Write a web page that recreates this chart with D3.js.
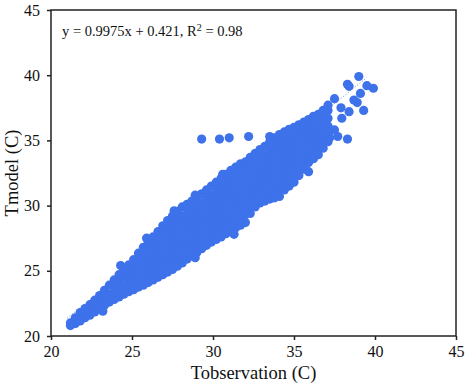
<!DOCTYPE html>
<html>
<head>
<meta charset="utf-8">
<script src="https://cdn.jsdelivr.net/npm/d3@7"></script>
<style>
  body { margin: 0; background: #fff; }
  text { font-family: "Liberation Serif", "Times New Roman", serif; fill: #111; }
</style>
</head>
<body>
<script>
var obsX = [21.2, 21.5, 21.8, 22.1, 22.4, 22.7, 23.0, 23.3, 23.6, 23.9, 24.2, 24.5, 24.8, 25.1,
  25.4, 25.7, 26.0, 26.3, 26.6, 26.9, 27.2, 27.5, 27.8, 28.1, 28.4, 28.7, 29.0, 29.3, 29.6,
  29.9, 30.2, 30.5, 30.8, 31.1, 31.4, 31.7, 32.0, 32.3, 32.6, 32.9, 33.2, 33.5, 33.8, 34.1,
  34.4, 34.7, 35.0, 35.3, 35.6, 35.9, 36.2, 36.5, 36.8, 37.1];
var modelY = [
  [20.8, 21.0],
  [20.95, 21.4],
  [21.15, 21.5, 21.8],
  [21.4, 21.75, 22.1],
  [21.6, 22.0, 22.4],
  [21.85, 22.3, 22.75],
  [22.1, 22.6, 23.1],
  [22.35, 22.9, 23.5],
  [22.6, 23.2, 23.9],
  [22.8, 23.4, 23.9, 24.3],
  [23.0, 23.6, 24.2, 24.7],
  [23.2, 23.8, 24.5, 25.1],
  [23.4, 24.0, 24.6, 25.1, 25.45],
  [23.55, 24.2, 24.8, 25.4, 25.85],
  [23.75, 24.3, 24.9, 25.5, 26.0, 26.35],
  [23.9, 24.5, 25.1, 25.7, 26.3, 26.8],
  [24.1, 24.6, 25.2, 25.8, 26.4, 26.9, 27.2],
  [24.3, 24.9, 25.5, 26.1, 26.7, 27.2, 27.6],
  [24.5, 25.0, 25.6, 26.2, 26.8, 27.4, 28.0],
  [24.7, 25.3, 25.9, 26.5, 27.1, 27.7, 28.2, 28.45],
  [24.9, 25.4, 26.0, 26.6, 27.2, 27.8, 28.4, 28.85],
  [25.1, 25.7, 26.3, 26.9, 27.5, 28.1, 28.7, 29.2],
  [25.35, 25.9, 26.5, 27.1, 27.7, 28.3, 28.9, 29.55],
  [25.6, 26.2, 26.8, 27.4, 28.0, 28.6, 29.2, 29.9],
  [25.9, 26.4, 27.0, 27.6, 28.2, 28.8, 29.4, 29.9, 30.1],
  [26.15, 26.7, 27.3, 27.9, 28.5, 29.1, 29.7, 30.35],
  [26.4, 27.0, 27.6, 28.2, 28.8, 29.4, 30.0, 30.6],
  [26.7, 27.2, 27.8, 28.4, 29.0, 29.6, 30.2, 30.9],
  [26.95, 27.5, 28.1, 28.7, 29.3, 29.9, 30.5, 31.0, 31.2],
  [27.2, 27.8, 28.4, 29.0, 29.6, 30.2, 30.8, 31.5],
  [27.4, 28.0, 28.6, 29.2, 29.8, 30.4, 31.0, 31.5, 31.8],
  [27.6, 28.2, 28.8, 29.4, 30.0, 30.6, 31.2, 31.7, 32.1],
  [27.85, 28.4, 29.0, 29.6, 30.2, 30.8, 31.4, 31.9, 32.4],
  [28.1, 28.7, 29.3, 29.9, 30.5, 31.1, 31.7, 32.2, 32.7],
  [28.3, 28.9, 29.5, 30.1, 30.7, 31.3, 31.9, 32.5, 32.95],
  [28.5, 29.1, 29.7, 30.3, 30.9, 31.5, 32.1, 32.7, 33.2],
  [28.7, 29.3, 29.9, 30.5, 31.1, 31.7, 32.3, 32.9, 33.35],
  [29.4, 29.9, 30.5, 31.1, 31.7, 32.3, 32.9, 33.4, 33.7],
  [29.9, 30.4, 31.0, 31.6, 32.2, 32.8, 33.4, 34.0],
  [30.2, 30.8, 31.4, 32.0, 32.6, 33.2, 33.8, 34.3],
  [30.35, 30.9, 31.5, 32.1, 32.7, 33.3, 33.9, 34.55],
  [30.5, 31.1, 31.7, 32.3, 32.9, 33.5, 34.1, 34.6, 34.9],
  [30.6, 31.2, 31.8, 32.4, 33.0, 33.6, 34.2, 34.8, 35.2],
  [30.7, 31.3, 31.9, 32.5, 33.1, 33.7, 34.3, 34.9, 35.45],
  [31.2, 31.7, 32.3, 32.9, 33.5, 34.1, 34.7, 35.2, 35.65],
  [31.5, 32.1, 32.7, 33.3, 33.9, 34.5, 35.1, 35.6, 35.85],
  [31.8, 32.4, 33.0, 33.6, 34.2, 34.8, 35.4, 36.0],
  [32.3, 32.8, 33.4, 34.0, 34.6, 35.2, 35.7, 36.2],
  [32.8, 33.4, 34.0, 34.6, 35.2, 35.8, 36.4],
  [33.3, 33.8, 34.4, 35.0, 35.6, 36.1, 36.6],
  [33.6, 34.2, 34.8, 35.4, 36.0, 36.5, 36.85],
  [33.9, 34.5, 35.1, 35.7, 36.3, 37.0],
  [34.4, 35.0, 35.6, 36.2, 36.8, 37.3],
  [34.9, 35.5, 36.1, 36.7, 37.3, 37.7]
];
// scattered points away from the main band, plus bumps on its edges
var outX = [29.3, 30.4, 31.0, 32.2, 33.5, 37.2, 37.7, 38.3, 37.5, 37.95, 37.9, 38.4, 39.3,
  37.5, 38.7, 38.9, 39.1, 38.3, 38.4, 39.0, 39.5, 39.9,
  24.3, 25.9, 27.6, 28.9, 30.6, 23.2, 28.9, 31.3, 33.8, 35.9];
var outY = [35.1, 35.1, 35.2, 35.3, 35.3, 35.2, 35.3, 35.1, 35.8, 36.7, 37.5, 37.2, 37.3,
  38.2, 38.1, 37.9, 38.6, 39.3, 39.15, 39.9, 39.2, 39.0,
  25.4, 27.5, 29.6, 30.8, 32.4, 21.9, 26.0, 27.8, 31.9, 32.6];
var xTicks = [20, 25, 30, 35, 40, 45];
var yTicks = [20, 25, 30, 35, 40, 45];
var slope = 0.9975, intercept = 0.421;

var points = [];
obsX.forEach(function(x, i) {
  modelY[i].forEach(function(y) { points.push({x: x, y: y}); });
});
outX.forEach(function(x, i) { points.push({x: x, y: outY[i]}); });

var W = 474, H = 384;
var margin = {top: 10, right: 18, bottom: 48, left: 51};
var width = W - margin.left - margin.right;
var height = H - margin.top - margin.bottom;

var svg = d3.select('body').append('svg')
  .attr('width', W)
  .attr('height', H);
var g = svg.append('g')
  .attr('transform', 'translate(' + margin.left + ',' + margin.top + ')');

var xScale = d3.scaleLinear().domain([20, 45]).range([0, width]);
var yScale = d3.scaleLinear().domain([20, 45]).range([height, 0]);

// dotted trend line, mostly hidden under the points
g.append('line')
  .attr('x1', xScale(21)).attr('y1', yScale(slope * 21 + intercept))
  .attr('x2', xScale(39.5)).attr('y2', yScale(slope * 39.5 + intercept))
  .attr('stroke', '#6f90dc')
  .attr('stroke-width', 1)
  .attr('stroke-dasharray', '1,2');

g.selectAll('circle.pt')
  .data(points)
  .enter().append('circle')
  .attr('class', 'pt')
  .attr('cx', function(d) { return xScale(d.x); })
  .attr('cy', function(d) { return yScale(d.y); })
  .attr('r', 4.6)
  .style('fill', '#3e72eb');

// frame
g.append('rect')
  .attr('width', width).attr('height', height)
  .attr('fill', 'none')
  .attr('stroke', '#222')
  .attr('stroke-width', 1.5);

var xAxis = d3.axisBottom(xScale).tickValues(xTicks).tickSize(4).tickPadding(6);
var yAxis = d3.axisLeft(yScale).tickValues(yTicks).tickSize(4).tickPadding(7);

var gx = g.append('g')
  .attr('transform', 'translate(0,' + height + ')')
  .call(xAxis);
var gy = g.append('g').call(yAxis);
[gx, gy].forEach(function(a) {
  a.select('.domain').remove();
  a.selectAll('line').attr('stroke', '#222').attr('stroke-width', 1.5);
  a.selectAll('text')
    .style('font-family', '"Liberation Serif", "Times New Roman", serif')
    .style('font-size', '16px')
    .style('fill', '#111');
});

g.append('text')
  .attr('x', 11)
  .attr('y', 26)
  .style('font-size', '14.5px')
  .html('y = 0.9975x + 0.421, R<tspan dy="-5" font-size="10px">2</tspan><tspan dy="5"> = 0.98</tspan>');

svg.append('text')
  .attr('x', margin.left + width / 2)
  .attr('y', 379)
  .attr('text-anchor', 'middle')
  .style('font-size', '18.5px')
  .text('Tobservation (C)');

svg.append('text')
  .attr('transform', 'translate(18,' + (margin.top + height / 2) + ') rotate(-90)')
  .attr('text-anchor', 'middle')
  .style('font-size', '18.5px')
  .text('Tmodel (C)');
</script>
</body>
</html>
